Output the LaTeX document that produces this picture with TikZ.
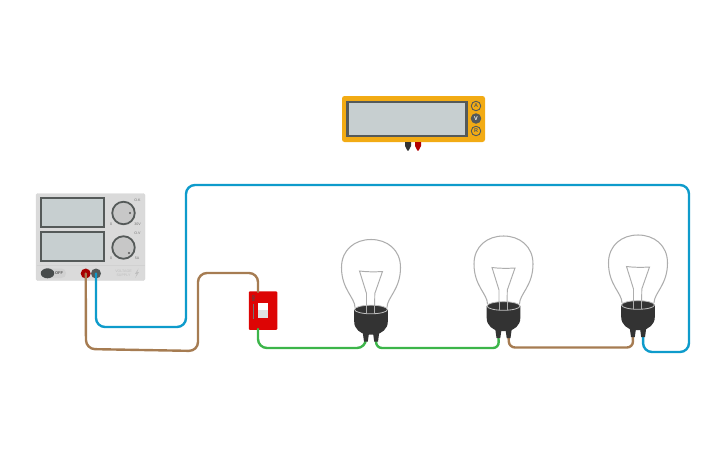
\documentclass[tikz,border=0pt]{standalone}
\usepackage{fontspec}
\setmainfont{Liberation Sans}
\usetikzlibrary{shapes.geometric}
\definecolor{wblue}{HTML}{0E9BCB}
\definecolor{wbrown}{HTML}{A67C52}
\definecolor{wgreen}{HTML}{3CB54A}
\definecolor{lcd}{HTML}{C7CFD0}
\definecolor{lcdedge}{HTML}{555A59}
\definecolor{psu}{HTML}{DADADA}
\definecolor{socket}{HTML}{333333}
\definecolor{amber}{HTML}{F2AB14}
\definecolor{swred}{HTML}{DD0505}
\tikzset{
  wire/.style={line width=2.4pt,rounded corners=9pt,line cap=round},
  lcdscreen/.style={draw=lcdedge,line width=2.4pt,fill=lcd},
  glass/.style={draw=black!32,line width=1.05pt,fill=white},
  dial/.style={circle,draw=lcdedge,line width=1.8pt,fill=black!22,minimum size=22.5pt,inner sep=0pt},
  tiny/.style={font=\fontsize{3.6}{4}\selectfont,text=black!55,inner sep=0pt},
  mbtn/.style={circle,draw=lcdedge,line width=.9pt,minimum size=9.5pt,inner sep=0pt,font=\fontsize{5.5}{6}\selectfont\bfseries,text=lcdedge},
  pics/bulb/.style={code={
    \draw[glass] (-16,-2) .. controls (-16,-12) and (-29.5,-20) .. (-29.5,-42)
      .. controls (-29.5,-60) and (-16,-70) .. (0,-70)
      .. controls (16,-70) and (29.5,-60) .. (29.5,-42)
      .. controls (29.5,-20) and (16,-12) .. (16,-2);
    \draw[draw=black!32,line width=.95pt] (-4.5,3) -- (-4.5,-16) -- (-11.5,-38.5)
      .. controls (-4,-37.5) and (4,-37.5) .. (11.5,-38) -- (3.8,-16) -- (3.5,3);
    \path[fill=socket] (-16.8,0) -- (-16.8,12) .. controls (-16.8,20) and (-10,24) .. (-5,25)
      -- (5,25) .. controls (10,24) and (16.8,20) .. (16.8,12) -- (16.8,0) -- cycle;
    \draw[fill=socket,draw=black!25,line width=.8pt] (0,0) ellipse (16.5 and 4.3);
    \draw[draw=black!32,line width=.95pt] (-4.5,-4) -- (-4.5,4) (3.7,-4) -- (3.7,4);
    \coordinate (-a) at (-5.1,31);
    \coordinate (-b) at (5.1,31);
  }},
  pics/pins/.style={code={
    \fill[socket] (-8.4,22) -- (-1.8,22) -- (-3.2,32) -- (-7,32) -- cycle;
    \fill[socket] (1.8,22) -- (8.4,22) -- (7,32) -- (3.2,32) -- cycle;
  }}
}
\begin{document}
\begin{tikzpicture}[x=1pt,y=-1pt]
\useasboundingbox (0,0) rectangle (725,453);
% multimeter
\node (meter) [fill=amber,rounded corners=2.5pt,minimum width=143pt,minimum height=46pt,inner sep=0pt] at (413.5,119) {};
\node (mscreen) [lcdscreen,minimum width=119pt,minimum height=34pt,inner sep=0pt] at (407,119) {};
\node (btnA) [mbtn] at (476,106) {A};
\node (btnV) [mbtn,fill=lcdedge,text=white] at (476,118.5) {V};
\node (btnR) [mbtn] at (476,131) {R};
\fill[socket] (405,142) -- (411,142) -- (411,146) -- (408.7,150.5) -- (407.3,150.5) -- (405,146) -- cycle;
\fill[red!70!black] (415,142) -- (421,142) -- (421,146) -- (418.7,150.5) -- (417.3,150.5) -- (415,146) -- cycle;
% power supply
\node (supply) [fill=psu,draw=black!15,line width=.4pt,rounded corners=1.5pt,minimum width=109pt,minimum height=87pt,inner sep=0pt] at (90.5,237) {};
\draw[black!18,line width=.5pt] (36.5,265.5) -- (145,265.5);
\node (lcdA) [lcdscreen,minimum width=63.5pt,minimum height=28.5pt,inner sep=0pt] at (72.5,212.5) {};
\node (lcdB) [lcdscreen,minimum width=63.5pt,minimum height=28.5pt,inner sep=0pt] at (72.5,246.5) {};
\node (dialA) [dial] at (123.5,213) {};
\node (dialB) [dial] at (123.5,247.5) {};
\fill[black!65] (130,213) circle (1.2pt);
\fill[black!65] (129,253) circle (1.2pt);
\node[tiny] (ta) at (137.5,200.5) {O.K};
\node[tiny] (tb) at (137.5,233.5) {O.V};
\node[tiny] (tc) at (111,224) {0};
\node[tiny] (td) at (137.5,224.5) {30V};
\node[tiny] (te) at (111,258) {0};
\node[tiny] (tf) at (137,258) {5A};
\fill[black!18,rounded corners=4.5pt] (42,268.5) rectangle (66,278);
\node (switchknob) [fill=lcdedge!85!black,ellipse,minimum width=13.5pt,minimum height=10pt,inner sep=0pt] at (47.5,273.3) {};
\node[font=\fontsize{4}{4}\selectfont\bfseries,text=black!65,inner sep=0pt] (off) at (59,273.5) {OFF};
\node[font=\fontsize{3.6}{4}\selectfont,text=black!25,inner sep=0pt,align=center] (vs) at (123.5,273.2) {VOLTAGE\\SUPPLY};
\fill[black!25] (138.5,268.5) -- (135,273.8) -- (136.7,273.8) -- (135.3,277.8) -- (139,272.2) -- (137.2,272.2) -- cycle;
\node (plus) [circle,fill=red!65!black,minimum size=10pt,inner sep=0pt] at (85.7,273.5) {};
\node (minus) [circle,fill=lcdedge,minimum size=10pt,inner sep=0pt] at (96,273.5) {};
% switch
\node (switch) [fill=swred,rounded corners=1pt,minimum width=28.5pt,minimum height=38.5pt,inner sep=0pt] at (263,310.5) {};
\node (lever) [fill=black!12,minimum width=10pt,minimum height=15pt,inner sep=0pt] at (263,310.5) {};
\fill[white] (258,303) rectangle (268,310);
\node[font=\fontsize{4}{4}\selectfont\bfseries,text=black!70,rotate=-90,inner sep=0pt] (on) at (253.6,298.5) {ON};
\draw[black!55,line width=.4pt] (253.6,304) -- (253.6,319);
% bulbs
\pic (b1) at (371,309.5) {bulb};
\pic (b2) at (503.5,306) {bulb};
\pic (b3) at (638,305) {bulb};
\coordinate (swin) at (258,292);
\coordinate (swout) at (258,329);
% wires
\draw[wire,wblue] (minus.center) -- (96,327) -- (186,327) -- (186,185) -- (689,185) -- (689,352) -- (643,352) -- (b3-b);
\draw[wire,wbrown] (plus.center) -- (86,349) -- (198,351) -- (198,273) -- (258,273) -- (swin);
\draw[wire,wgreen] (swout) -- (258,348) -- (366,348) [rounded corners=5pt] -- (b1-a);
\draw[wire,wgreen,rounded corners=6pt] (b1-b) -- (376,348) -- (499,348) -- (b2-a);
\draw[wire,wbrown,rounded corners=6pt] (b2-b) -- (509,347.5) -- (633,347.5) -- (b3-a);
\pic at (371,309.5) {pins};
\pic at (503.5,306) {pins};
\pic at (638,305) {pins};
\end{tikzpicture}
\end{document}
